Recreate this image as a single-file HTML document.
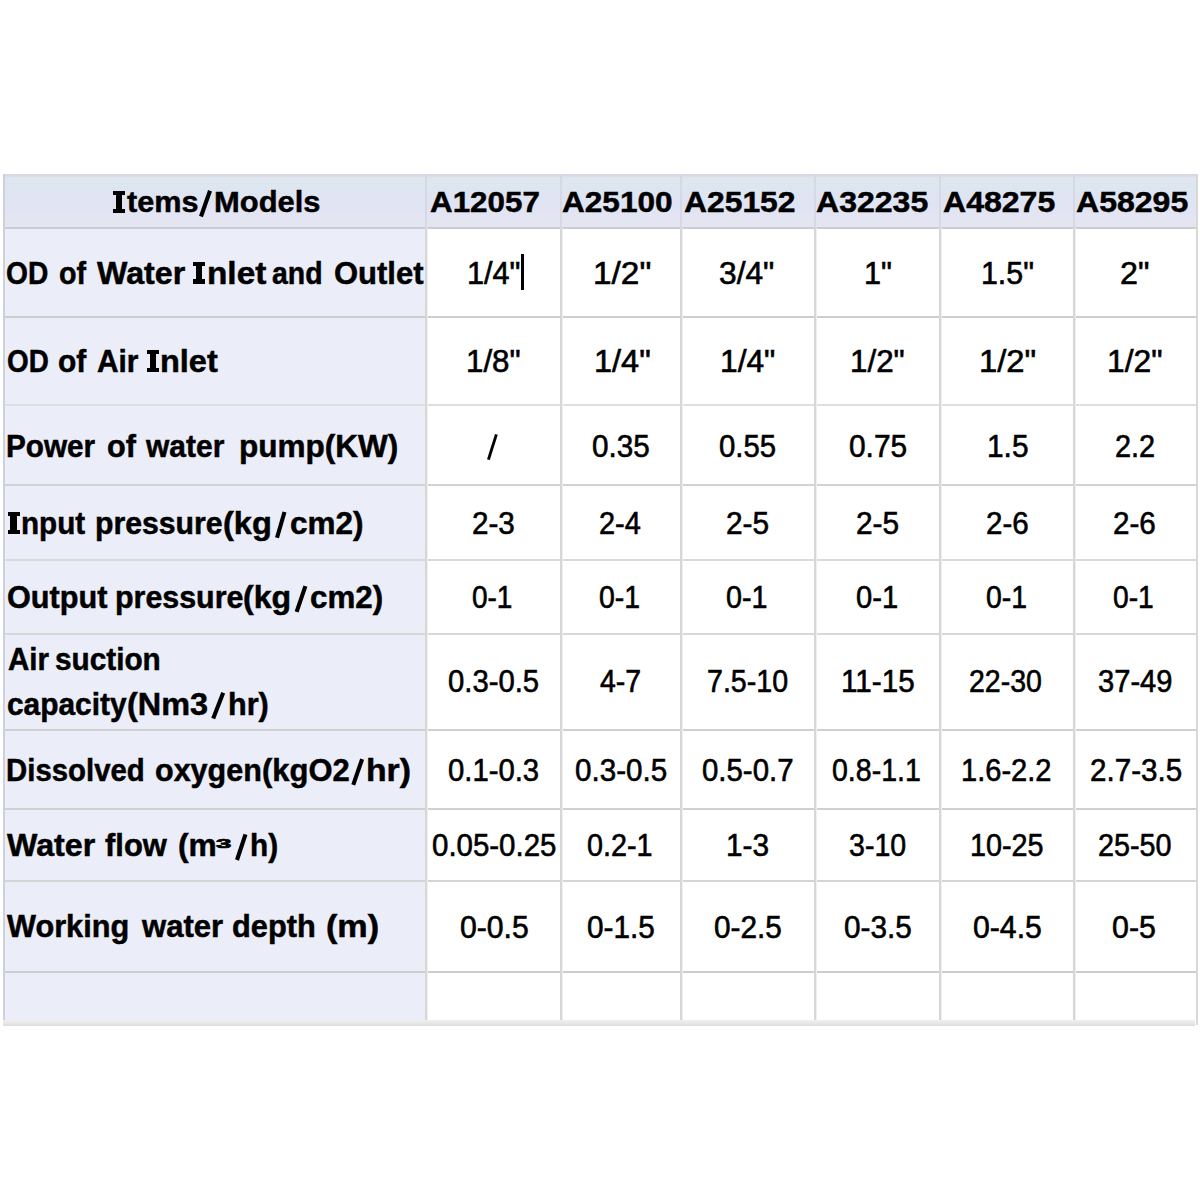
<!DOCTYPE html>
<html><head><meta charset="utf-8"><title>Specifications</title><style>
html,body{margin:0;padding:0;background:#fff;}
body{width:1200px;height:1200px;position:relative;overflow:hidden;font-family:"Liberation Sans",sans-serif;color:#000;}
.t{position:absolute;white-space:nowrap;transform-origin:0 0;}
.b{font-weight:bold;font-size:31.5px;line-height:31.5px;-webkit-text-stroke:0.5px #000;}
.r{font-size:31px;line-height:31px;-webkit-text-stroke:0.6px #000;}
.bg{position:absolute;}
</style></head>
<body>
<div class="bg" style="left:3px;top:174px;width:1193px;height:848px;background:#fff"></div>
<div class="bg" style="left:3px;top:228px;width:423px;height:794px;background:#ebeef8"></div>
<div class="bg" style="left:3px;top:174px;width:1193px;height:54px;background:linear-gradient(#d6d8e0 0px,#dadce4 2px,#e0e6f0 4px,#dde6f0 14px,#e0e3f3 30px,#e3e5f3 42px,#e3e5ef 52px)"></div>
<div class="bg" style="left:4px;top:227px;width:1192px;height:2px;background:#c9ccd6"></div>
<div class="bg" style="left:4px;top:316px;width:1192px;height:2px;background:#cdcdcd"></div>
<div class="bg" style="left:4px;top:404px;width:1192px;height:2px;background:#dedede"></div>
<div class="bg" style="left:4px;top:484px;width:1192px;height:2px;background:#d2d2d2"></div>
<div class="bg" style="left:4px;top:559px;width:1192px;height:2px;background:#dadada"></div>
<div class="bg" style="left:4px;top:633px;width:1192px;height:2px;background:#d8d8d8"></div>
<div class="bg" style="left:4px;top:729px;width:1192px;height:2px;background:#d0d0d0"></div>
<div class="bg" style="left:4px;top:808px;width:1192px;height:2px;background:#d0d0d0"></div>
<div class="bg" style="left:4px;top:880px;width:1192px;height:2px;background:#d4d4d4"></div>
<div class="bg" style="left:4px;top:971px;width:1192px;height:2px;background:#cdcdcd"></div>
<div class="bg" style="left:425px;top:174px;width:2px;height:54px;background:#d6d9e3"></div>
<div class="bg" style="left:425px;top:228px;width:2px;height:795px;background:#d7d7d7"></div>
<div class="bg" style="left:427px;top:228px;width:1px;height:795px;background:#efefef"></div>
<div class="bg" style="left:560px;top:174px;width:2px;height:54px;background:#d6d9e3"></div>
<div class="bg" style="left:560px;top:228px;width:2px;height:795px;background:#d7d7d7"></div>
<div class="bg" style="left:562px;top:228px;width:1px;height:795px;background:#efefef"></div>
<div class="bg" style="left:680px;top:174px;width:2px;height:54px;background:#d6d9e3"></div>
<div class="bg" style="left:680px;top:228px;width:2px;height:795px;background:#d7d7d7"></div>
<div class="bg" style="left:682px;top:228px;width:1px;height:795px;background:#efefef"></div>
<div class="bg" style="left:814px;top:174px;width:2px;height:54px;background:#d6d9e3"></div>
<div class="bg" style="left:814px;top:228px;width:2px;height:795px;background:#d7d7d7"></div>
<div class="bg" style="left:816px;top:228px;width:1px;height:795px;background:#efefef"></div>
<div class="bg" style="left:939px;top:174px;width:2px;height:54px;background:#d6d9e3"></div>
<div class="bg" style="left:939px;top:228px;width:2px;height:795px;background:#d7d7d7"></div>
<div class="bg" style="left:941px;top:228px;width:1px;height:795px;background:#efefef"></div>
<div class="bg" style="left:1073px;top:174px;width:2px;height:54px;background:#d6d9e3"></div>
<div class="bg" style="left:1073px;top:228px;width:2px;height:795px;background:#d7d7d7"></div>
<div class="bg" style="left:1075px;top:228px;width:1px;height:795px;background:#efefef"></div>
<div class="bg" style="left:3px;top:174px;width:2px;height:850px;background:#cfd1da"></div>
<div class="bg" style="left:1195.5px;top:174px;width:2.5px;height:851px;background:#d8d8d8"></div>
<div class="bg" style="left:3px;top:1020px;width:1192px;height:6px;background:linear-gradient(#f0f0f0,#e6e6e6 60%,#dcdcdc)"></div>
<div class="bg" style="left:520.8px;top:254px;width:3px;height:35.5px;background:#000"></div>
<div class="t b" style="left:127.00px;top:187.37px;transform:scale(0.9724,0.9500)">tems</div>
<div class="t b" style="left:214.04px;top:187.37px;transform:scale(0.9812,0.9500)">Models</div>
<div class="t b" style="left:430.00px;top:187.37px;transform:scale(0.9952,0.9500)">A12057</div>
<div class="t b" style="left:561.70px;top:187.37px;transform:scale(1.0016,0.9500)">A25100</div>
<div class="t b" style="left:684.00px;top:187.37px;transform:scale(1.0107,0.9500)">A25152</div>
<div class="t b" style="left:816.00px;top:187.37px;transform:scale(1.0171,0.9500)">A32235</div>
<div class="t b" style="left:943.30px;top:187.37px;transform:scale(1.0171,0.9500)">A48275</div>
<div class="t b" style="left:1076.00px;top:187.37px;transform:scale(1.0171,0.9500)">A58295</div>
<div class="t b" style="left:6.41px;top:257.53px;transform:scaleX(0.8945)">OD</div>
<div class="t b" style="left:58.69px;top:257.53px;transform:scaleX(0.9097)">of</div>
<div class="t b" style="left:97.20px;top:257.53px;transform:scaleX(1.0222)">Water</div>
<div class="t b" style="left:207.08px;top:257.53px;transform:scaleX(1.0585)">nlet</div>
<div class="t b" style="left:272.40px;top:257.53px;transform:scaleX(0.9021)">and</div>
<div class="t b" style="left:333.72px;top:257.53px;transform:scaleX(0.9834)">Outlet</div>
<div class="t r" style="left:466.52px;top:257.56px;transform:scaleX(0.9884)">1/4&quot;</div>
<div class="t r" style="left:592.85px;top:258.06px;transform:scaleX(1.0764)">1/2&quot;</div>
<div class="t r" style="left:718.98px;top:258.06px;transform:scaleX(1.0231)">3/4&quot;</div>
<div class="t r" style="left:863.72px;top:258.06px;transform:scaleX(0.9905)">1&quot;</div>
<div class="t r" style="left:981.34px;top:258.06px;transform:scaleX(0.9786)">1.5&quot;</div>
<div class="t r" style="left:1119.96px;top:258.06px;transform:scaleX(1.0404)">2&quot;</div>
<div class="t b" style="left:6.82px;top:346.03px;transform:scaleX(0.8835)">OD</div>
<div class="t b" style="left:58.45px;top:346.03px;transform:scaleX(0.9507)">of</div>
<div class="t b" style="left:96.80px;top:346.03px;transform:scaleX(0.9471)">Air</div>
<div class="t b" style="left:160.24px;top:346.03px;transform:scaleX(1.0310)">nlet</div>
<div class="t r" style="left:465.68px;top:346.46px;transform:scaleX(1.0099)">1/8&quot;</div>
<div class="t r" style="left:593.60px;top:346.46px;transform:scaleX(1.0490)">1/4&quot;</div>
<div class="t r" style="left:719.65px;top:346.46px;transform:scaleX(1.0236)">1/4&quot;</div>
<div class="t r" style="left:850.28px;top:346.46px;transform:scaleX(1.0119)">1/2&quot;</div>
<div class="t r" style="left:978.89px;top:346.46px;transform:scaleX(1.0569)">1/2&quot;</div>
<div class="t r" style="left:1107.25px;top:346.46px;transform:scaleX(1.0256)">1/2&quot;</div>
<div class="t b" style="left:6.36px;top:430.83px;transform:scaleX(0.9434)">Power</div>
<div class="t b" style="left:107.23px;top:430.83px;transform:scaleX(0.9712)">of</div>
<div class="t b" style="left:145.75px;top:430.83px;transform:scaleX(0.9515)">water</div>
<div class="t b" style="left:239.25px;top:430.83px;transform:scaleX(1.0009)">pump(KW)</div>
<div class="t r" style="left:591.74px;top:430.76px;transform:scaleX(0.9571)">0.35</div>
<div class="t r" style="left:719.05px;top:430.76px;transform:scaleX(0.9467)">0.55</div>
<div class="t r" style="left:849.04px;top:430.76px;transform:scaleX(0.9640)">0.75</div>
<div class="t r" style="left:987.37px;top:430.76px;transform:scaleX(0.9635)">1.5</div>
<div class="t r" style="left:1115.07px;top:430.76px;transform:scaleX(0.9302)">2.2</div>
<div class="t b" style="left:20.62px;top:508.03px;transform:scaleX(0.9404)">nput</div>
<div class="t b" style="left:95.28px;top:508.03px;transform:scaleX(0.9590)">pressure</div>
<div class="t b" style="left:222.97px;top:508.03px;transform:scaleX(1.0331)">(kg</div>
<div class="t b" style="left:289.70px;top:508.03px;transform:scaleX(0.9994)">cm2)</div>
<div class="t r" style="left:472.34px;top:507.76px;transform:scaleX(0.9562)">2-3</div>
<div class="t r" style="left:599.07px;top:507.76px;transform:scaleX(0.9343)">2-4</div>
<div class="t r" style="left:726.34px;top:507.76px;transform:scaleX(0.9633)">2-5</div>
<div class="t r" style="left:856.34px;top:507.76px;transform:scaleX(0.9633)">2-5</div>
<div class="t r" style="left:985.75px;top:507.76px;transform:scaleX(0.9539)">2-6</div>
<div class="t r" style="left:1113.34px;top:507.76px;transform:scaleX(0.9562)">2-6</div>
<div class="t b" style="left:7.28px;top:582.23px;transform:scaleX(0.9731)">Output</div>
<div class="t b" style="left:115.37px;top:582.23px;transform:scaleX(0.9647)">pressure</div>
<div class="t b" style="left:243.18px;top:582.23px;transform:scaleX(1.0176)">(kg</div>
<div class="t b" style="left:310.11px;top:582.23px;transform:scaleX(0.9937)">cm2)</div>
<div class="t r" style="left:472.40px;top:582.16px;transform:scaleX(0.9022)">0-1</div>
<div class="t r" style="left:599.08px;top:582.16px;transform:scaleX(0.9163)">0-1</div>
<div class="t r" style="left:726.37px;top:582.16px;transform:scaleX(0.9257)">0-1</div>
<div class="t r" style="left:855.76px;top:582.16px;transform:scaleX(0.9398)">0-1</div>
<div class="t r" style="left:985.78px;top:582.16px;transform:scaleX(0.9163)">0-1</div>
<div class="t r" style="left:1113.09px;top:582.16px;transform:scaleX(0.9092)">0-1</div>
<div class="t b" style="left:7.50px;top:644.43px;transform:scaleX(0.9379)">Air</div>
<div class="t b" style="left:54.86px;top:644.43px;transform:scaleX(0.9439)">suction</div>
<div class="t b" style="left:7.25px;top:688.73px;transform:scaleX(0.9478)">capacity</div>
<div class="t b" style="left:127.27px;top:688.73px;transform:scaleX(1.0279)">(Nm3</div>
<div class="t b" style="left:227.86px;top:688.73px;transform:scaleX(0.9714)">hr)</div>
<div class="t r" style="left:448.36px;top:666.46px;transform:scaleX(0.9441)">0.3-0.5</div>
<div class="t r" style="left:600.00px;top:666.46px;transform:scaleX(0.9182)">4-7</div>
<div class="t r" style="left:707.38px;top:666.46px;transform:scaleX(0.9232)">7.5-10</div>
<div class="t r" style="left:840.79px;top:666.46px;transform:scaleX(0.9574)">11-15</div>
<div class="t r" style="left:969.08px;top:666.46px;transform:scaleX(0.9187)">22-30</div>
<div class="t r" style="left:1098.36px;top:666.46px;transform:scaleX(0.9397)">37-49</div>
<div class="t b" style="left:6.38px;top:755.23px;transform:scaleX(0.9326)">Dissolved</div>
<div class="t b" style="left:154.83px;top:755.23px;transform:scaleX(0.9691)">oxygen</div>
<div class="t b" style="left:262.27px;top:755.23px;transform:scaleX(0.9817)">(kgO2</div>
<div class="t b" style="left:365.61px;top:755.23px;transform:scaleX(1.0714)">hr)</div>
<div class="t r" style="left:448.36px;top:754.56px;transform:scaleX(0.9441)">0.1-0.3</div>
<div class="t r" style="left:575.05px;top:754.56px;transform:scaleX(0.9547)">0.3-0.5</div>
<div class="t r" style="left:702.35px;top:754.56px;transform:scaleX(0.9483)">0.5-0.7</div>
<div class="t r" style="left:832.38px;top:754.56px;transform:scaleX(0.9197)">0.8-1.1</div>
<div class="t r" style="left:961.43px;top:754.56px;transform:scaleX(0.9371)">1.6-2.2</div>
<div class="t r" style="left:1090.05px;top:754.56px;transform:scaleX(0.9547)">2.7-3.5</div>
<div class="t b" style="left:7.30px;top:830.33px;transform:scaleX(1.0222)">Water</div>
<div class="t b" style="left:104.50px;top:830.33px;transform:scaleX(0.9814)">flow</div>
<div class="t b" style="left:177.69px;top:830.33px;transform:scaleX(1.0058)">(m</div>
<div class="t b" style="left:250.11px;top:830.33px;transform:scaleX(0.9451)">h)</div>
<div class="t r" style="left:431.75px;top:830.26px;transform:scaleX(0.9499)">0.05-0.25</div>
<div class="t r" style="left:587.37px;top:830.26px;transform:scaleX(0.9267)">0.2-1</div>
<div class="t r" style="left:726.38px;top:830.26px;transform:scaleX(0.9624)">1-3</div>
<div class="t r" style="left:849.08px;top:830.26px;transform:scaleX(0.9210)">3-10</div>
<div class="t r" style="left:969.84px;top:830.26px;transform:scaleX(0.9284)">10-25</div>
<div class="t r" style="left:1098.37px;top:830.26px;transform:scaleX(0.9277)">25-50</div>
<div class="t b" style="left:7.30px;top:911.38px;transform:scaleX(0.9744)">Working</div>
<div class="t b" style="left:142.19px;top:911.38px;transform:scaleX(0.9864)">water</div>
<div class="t b" style="left:232.22px;top:911.38px;transform:scaleX(0.9767)">depth</div>
<div class="t b" style="left:325.62px;top:911.38px;transform:scaleX(1.0839)">(m)</div>
<div class="t r" style="left:459.73px;top:911.86px;transform:scaleX(0.9734)">0-0.5</div>
<div class="t r" style="left:586.74px;top:911.86px;transform:scaleX(0.9588)">0-1.5</div>
<div class="t r" style="left:714.04px;top:911.86px;transform:scaleX(0.9603)">0-2.5</div>
<div class="t r" style="left:844.04px;top:911.86px;transform:scaleX(0.9603)">0-3.5</div>
<div class="t r" style="left:973.03px;top:911.86px;transform:scaleX(0.9749)">0-4.5</div>
<div class="t r" style="left:1112.32px;top:911.86px;transform:scaleX(0.9797)">0-5</div>
<div class="t" style="font-weight:bold;font-size:13px;line-height:13px;-webkit-text-stroke:0.7px #000;left:216.15px;top:836.96px;transform:scale(2.1231,1.0184)">3</div>
<div class="bg" style="background:#000;left:113.10px;top:190.90px;width:11.90px;height:4.3px"></div>
<div class="bg" style="background:#000;left:115.85px;top:190.90px;width:6.4px;height:22px"></div>
<div class="bg" style="background:#000;left:113.10px;top:208.60px;width:11.90px;height:4.3px"></div>
<div class="bg" style="background:#000;left:192.90px;top:261.60px;width:12.10px;height:4.3px"></div>
<div class="bg" style="background:#000;left:195.75px;top:261.60px;width:6.4px;height:22px"></div>
<div class="bg" style="background:#000;left:192.90px;top:279.30px;width:12.10px;height:4.3px"></div>
<div class="bg" style="background:#000;left:146.90px;top:350.10px;width:12.10px;height:4.3px"></div>
<div class="bg" style="background:#000;left:149.75px;top:350.10px;width:6.4px;height:22px"></div>
<div class="bg" style="background:#000;left:146.90px;top:367.80px;width:12.10px;height:4.3px"></div>
<div class="bg" style="background:#000;left:7.70px;top:512.10px;width:11.90px;height:4.3px"></div>
<div class="bg" style="background:#000;left:10.45px;top:512.10px;width:6.4px;height:22px"></div>
<div class="bg" style="background:#000;left:7.70px;top:529.80px;width:11.90px;height:4.3px"></div>
<svg width="1200" height="1200" style="position:absolute;left:0;top:0" stroke="#000" stroke-width="4.1">
<line x1="201.00" y1="216.50" x2="210.00" y2="190.80"/>
<line x1="488.4" y1="459.6" x2="496.4" y2="434.4" stroke-width="2.9"/>
<line x1="277.00" y1="537.70" x2="284.50" y2="512.00"/>
<line x1="296.60" y1="611.90" x2="305.40" y2="586.20"/>
<line x1="213.20" y1="718.40" x2="223.20" y2="692.70"/>
<line x1="353.25" y1="784.90" x2="362.10" y2="759.20"/>
<line x1="237.00" y1="860.00" x2="245.50" y2="834.30"/>
</svg>
</body></html>
